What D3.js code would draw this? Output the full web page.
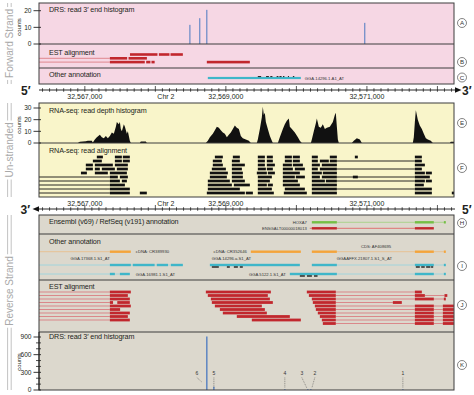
<!DOCTYPE html>
<html>
<head>
<meta charset="utf-8">
<script src="https://cdn.jsdelivr.net/npm/d3@7"></script>
<style>
body { margin: 0; background: #fff; }
svg text { font-family: "Liberation Sans", Arial, sans-serif; }
</style>
</head>
<body>
<div id="chart"></div>
<script>
// genome window, positions are bp offsets from chromStart
var chromStart = 32566000;
var viewRange = [350, 6235];

// forward strand DRS 3' end histogram [pos, count]
var fwdDrs = [[2490, 11.5], [2630, 15.5], [2730, 20.5], [4970, 12.7]];

// forward strand ESTs, blocks per row
var fwdEstRows = [
  [[1640, 2030], [2050, 2200], [2215, 2390]],
  [[1355, 1600], [1620, 1880]],
  [[1355, 1850], [1870, 1930], [1945, 1990], [2730, 3340]]
];
var fwdEstLines = [[1, 350, 1355], [2, 350, 1355]];

// forward strand probe
var fwdProbe = [[2744, 4063]];
var fwdProbeMarks = [[3453, 3500], [3570, 3610], [3630, 3660], [3720, 3745], [3760, 3790], [3810, 3830], [3880, 3895], [3950, 3970]];

// RNA-seq read depth [pos, count]
var depth = [
  [900, 0], [930, 1], [1014, 1.5], [1043, 2], [1099, 2], [1113, 0.5], [1142, 3], [1170, 5], [1213, 7], [1241, 5],
  [1269, 4], [1298, 6], [1326, 4], [1355, 6], [1383, 9], [1411, 8], [1440, 14], [1454, 18], [1482, 16], [1497, 18],
  [1510, 12], [1525, 10], [1553, 16], [1568, 14], [1596, 8], [1610, 10], [1624, 6], [1638, 2], [1652, 0],
  [1780, 0], [1794, 1.3], [1865, 1.3], [1879, 0],
  [2716, 0], [2744, 2], [2773, 5], [2815, 8], [2844, 11], [2872, 14], [2900, 13], [2928, 11], [2957, 9], [2985, 8],
  [3014, 5], [3042, 7], [3070, 9], [3099, 12], [3127, 15], [3155, 13], [3184, 12], [3212, 6], [3240, 4], [3283, 3],
  [3326, 2], [3354, 0],
  [3439, 0], [3453, 3], [3482, 12], [3510, 22], [3524, 31], [3538, 24], [3552, 26], [3567, 18], [3595, 12], [3624, 6],
  [3652, 2], [3666, 0],
  [3737, 0], [3765, 5], [3808, 12], [3836, 16], [3864, 19], [3893, 21], [3907, 14], [3936, 12], [3978, 9], [4021, 5],
  [4049, 2], [4077, 0],
  [4205, 0], [4219, 3], [4247, 10], [4276, 17], [4290, 21], [4318, 14], [4346, 13], [4375, 16], [4404, 12], [4432, 13],
  [4474, 14], [4517, 18], [4545, 24], [4559, 26], [4574, 14], [4588, 3], [4602, 0],
  [4786, 0], [4814, 2], [4857, 4], [4900, 3], [4928, 0],
  [5651, 0], [5665, 5], [5680, 18], [5694, 28], [5722, 20], [5750, 15], [5779, 12], [5807, 8], [5836, 4], [5864, 3],
  [5906, 2], [5935, 0],
  [6176, 0], [6190, 1], [6235, 1]
];

// RNA-seq read alignment, blocks per row
var seqRows = [
  [[1170, 1256], [1426, 1525], [1539, 1638], [2844, 2957], [3099, 3198], [3453, 3553], [3581, 3666], [3836, 3936], [3950, 4049], [4219, 4304], [4474, 4574], [4829, 4871], [5680, 5779]],
  [[1114, 1241], [1426, 1525], [1539, 1638], [2815, 2943], [3085, 3198], [3453, 3553], [3581, 3666], [3836, 3936], [3950, 4049], [4219, 4304], [4333, 4460], [4474, 4574], [5680, 5779]],
  [[1014, 1114], [1142, 1397], [1426, 1610], [2815, 2957], [3085, 3269], [3453, 3553], [3581, 3695], [3808, 3936], [3950, 4092], [4219, 4333], [4361, 4574], [5680, 5822]],
  [[1014, 1114], [1142, 1213], [1241, 1426], [1454, 1610], [2801, 3000], [3085, 3227], [3453, 3567], [3581, 3666], [3808, 3950], [3978, 4120], [4219, 4304], [4333, 4574], [5680, 5779]],
  [[945, 1029], [1142, 1326], [1355, 1596], [2773, 3028], [3085, 3241], [3439, 3581], [3595, 3695], [3808, 4049], [4219, 4361], [4375, 4574], [5680, 5822], [5836, 5921]],
  [[1355, 1468], [1497, 1610], [2773, 3014], [3085, 3241], [3453, 3652], [3808, 3978], [3992, 4120], [4219, 4333], [4361, 4574], [4801, 4871], [5680, 5892]],
  [[1355, 1497], [1525, 1596], [2744, 3056], [3085, 3269], [3453, 3624], [3808, 4021], [4219, 4404], [4418, 4574], [5680, 5822], [5836, 5921]],
  [[1355, 1568], [2744, 3085], [3113, 3340], [3453, 3581], [3595, 3666], [3808, 4049], [4219, 4574], [5680, 5807]],
  [[1355, 1638], [2744, 3198], [3453, 3652], [3836, 4120], [4219, 4574], [5680, 5921]],
  [[1355, 1638], [1780, 1879], [2730, 3269], [3283, 3383], [3453, 3680], [3822, 4148], [4219, 4574], [5680, 5921], [6204, 6235]]
];
var seqJunctions = [
  [5, 350, 1355], [6, 350, 1355], [7, 350, 1355], [8, 350, 1355], [9, 350, 1355],
  [1, 4574, 5680], [3, 4574, 5680], [5, 4574, 5680], [6, 4574, 5680], [8, 4574, 5680]
];

// Ensembl / RefSeq models
var hoxa7 = [[4219, 4574], [5680, 5949], [6091, 6119]];
var ensgalt = [[4219, 4574], [5680, 5949]];

// other annotation on the reverse strand: [name, row, exons, leading line]
var revAnnot = [
  ["cDNA: CR389930", 0, [[1355, 1652]], true],
  ["cDNA: CR352646", 0, [[3354, 4063]], false],
  ["CDS: AF408695", 0, [[4219, 4574], [5680, 5949], [6091, 6119]], false],
  ["GGA.17368.1.S1_AT", 1, [[1355, 1652], [1680, 1990], [2020, 2180], [2220, 2390]], true],
  ["GGA.14296.a.S1_AT", 1, [[2773, 4049]], false],
  ["GGAAFFX.21807.1.S1_S_AT", 1, [[4219, 4574], [5680, 5949], [6091, 6119]], false],
  ["GGA.16981.1.S1_AT", 2, [[1355, 1426], [1497, 1638]], true],
  ["GGA.5122.1.S1_AT", 2, [[3907, 4574], [5680, 5949], [6091, 6119]], false]
];
var revAnnotMarks = [
  [1, 2801, 2900], [1, 3014, 3056], [1, 3113, 3170], [1, 3198, 3240],
  [1, 5694, 5750], [1, 5770, 5820], [1, 5840, 5900], [1, 5910, 5940],
  [2, 4049, 4120], [2, 4150, 4220], [2, 4250, 4300]
];

// reverse strand ESTs, blocks per row
var revEstRows = [
  [[1355, 1652], [2716, 3638], [4148, 4559], [5680, 5779]],
  [[1355, 1610], [2744, 3595], [4177, 4559], [5680, 5822], [6100, 6140]],
  [[1355, 1638], [2787, 3624], [4219, 4559], [5680, 5949], [6091, 6119]],
  [[1355, 1400], [1460, 1638], [2801, 3666], [4233, 4559], [5368, 5495]],
  [[1355, 1652], [2844, 3510], [4262, 4559], [5680, 5949], [6077, 6233]],
  [[1355, 1500], [2915, 3553], [4276, 4559], [5680, 5949], [6077, 6233]],
  [[1355, 1638], [2957, 3581], [4304, 4559], [5680, 5949], [6077, 6233]],
  [[1355, 1610], [3155, 3907], [4333, 4559], [5680, 5949], [6077, 6233]],
  [[1355, 1638], [3368, 4063], [4361, 4559], [5680, 5949], [6077, 6233]],
  [[4375, 4559], [5680, 5949], [6077, 6233]]
];
var revEstLines = [
  [0, 350, 1355], [1, 350, 1355], [2, 350, 1355], [3, 350, 1355], [4, 350, 1355],
  [5, 350, 1355], [6, 350, 1355], [7, 350, 1355], [8, 350, 1355],
  [0, 4559, 5680], [1, 4559, 5680], [2, 4559, 5680], [3, 4559, 5368], [4, 4559, 5680],
  [5, 4559, 5680], [6, 4559, 5680], [7, 4559, 5680], [8, 4559, 5680], [9, 4559, 5680],
  [1, 5822, 6100], [2, 5949, 6091], [4, 5949, 6077], [5, 5949, 6077], [6, 5949, 6077],
  [7, 5949, 6077], [8, 5949, 6077], [9, 5949, 6077]
];

// reverse strand DRS 3' end histogram [pos, count, peak label]
var revDrs = [[2730, 910, "6"], [2830, 55, "5"], [3836, 12, "4"], [4162, 12, "3"], [4205, 12, "2"], [5510, 12, "1"]];

var svg = d3.select("#chart")
  .append("svg")
    .attr("width", 474)
    .attr("height", 395);

var x = d3.scaleLinear().domain(viewRange).range([39, 454]);

var red = "#c1272d", cyan = "#3fb6c9", orange = "#f4a43a", green = "#74bf45", blue = "#4a78c0";

// section boxes
var boxes = [
  {top: 3, bottom: 84, fill: "#f6d7e4", dividers: [44, 68], name: "Forward Strand", mid: 43.5},
  {top: 103, bottom: 197, fill: "#f9f5ca", dividers: [143], name: "Un-stranded", mid: 150},
  {top: 215, bottom: 390, fill: "#dcd8cd", dividers: [234, 280, 332], name: "Reverse Strand", mid: 291}
];

boxes.forEach(function(b) {
  svg.append("rect")
    .attr("x", 39).attr("y", b.top)
    .attr("width", 415).attr("height", b.bottom - b.top)
    .attr("fill", b.fill);
});

// small helpers for blocks and thin lines
function drawBlocks(data, yOf, h, color) {
  svg.append("g").selectAll("rect")
    .data(data)
    .enter()
    .append("rect")
    .attr("x", function(d) { return x(d[1]); })
    .attr("y", function(d) { return yOf(d[0]) - h / 2; })
    .attr("width", function(d) { return Math.max(0.8, x(d[2]) - x(d[1])); })
    .attr("height", h)
    .attr("fill", color);
}
function drawLines(data, yOf, color, w) {
  svg.append("g").selectAll("line")
    .data(data)
    .enter()
    .append("line")
    .attr("x1", function(d) { return x(d[1]); })
    .attr("x2", function(d) { return x(d[2]); })
    .attr("y1", function(d) { return yOf(d[0]); })
    .attr("y2", function(d) { return yOf(d[0]); })
    .attr("stroke", color)
    .attr("stroke-width", w);
}
function flatRows(rows) {
  var out = [];
  rows.forEach(function(r, i) { r.forEach(function(b) { out.push([i, b[0], b[1]]); }); });
  return out;
}
function gaps(exons) {
  var out = [];
  for (var i = 1; i < exons.length; i++) out.push([exons[i - 1][1], exons[i][0]]);
  return out;
}
function panelTitle(t, y) {
  svg.append("text").attr("x", 49).attr("y", y).text(t)
    .attr("font-size", "7.2px").attr("letter-spacing", "-0.12px").attr("fill", "#231f20");
}

// ---- forward strand ----
var yFwd = d3.scaleLinear().domain([0, 20]).range([44, 10.7]);
svg.append("g").selectAll("line")
  .data(fwdDrs)
  .enter()
  .append("line")
  .attr("x1", function(d) { return x(d[0]); })
  .attr("x2", function(d) { return x(d[0]); })
  .attr("y1", yFwd(0))
  .attr("y2", function(d) { return yFwd(d[1]); })
  .attr("stroke", blue)
  .attr("stroke-width", 1);

var fwdEstY = function(r) { return 54.5 + r * 3.8; };
drawLines(fwdEstLines, fwdEstY, "#d9737a", 0.8);
drawBlocks(flatRows(fwdEstRows), fwdEstY, 2.6, red);

drawBlocks(fwdProbe.map(function(d) { return [0, d[0], d[1]]; }), function() { return 78; }, 2.2, cyan);
drawBlocks(fwdProbeMarks.map(function(d) { return [0, d[0], d[1]]; }), function() { return 76.6; }, 0.9, "#111");
svg.append("text").attr("x", x(4063) + 4).attr("y", 79.5).text("GGA.14296.1.A1_AT")
  .attr("font-size", "4.2px").attr("fill", "#333");

panelTitle("DRS: read 3\u2032 end histogram", 12);
panelTitle("EST alignment", 54.5);
panelTitle("Other annotation", 77);

// ---- un-stranded ----
var yDepth = d3.scaleLinear().domain([0, 30]).range([143, 108]);
svg.append("path")
  .datum(depth)
  .attr("d", d3.area()
    .x(function(d) { return x(d[0]); })
    .y0(yDepth(0))
    .y1(function(d) { return yDepth(d[1]); }))
  .attr("fill", "#111");

var seqY = function(r) { return 157 + r * 4; };
drawLines(seqJunctions, seqY, "#111", 0.9);
drawBlocks(flatRows(seqRows), seqY, 2.7, "#111");

panelTitle("RNA-seq: read depth histogram", 113);
panelTitle("RNA-seq: read alignment", 152.5);

// ---- reverse strand ----
// Ensembl / RefSeq
drawLines(gaps(hoxa7).map(function(d) { return [0, d[0], d[1]]; }), function() { return 222.3; }, "#9fcf7c", 0.8);
drawBlocks(hoxa7.map(function(d) { return [0, d[0], d[1]]; }), function() { return 222.3; }, 2.4, green);
drawLines([[0, 4190, 4219]].concat(gaps(ensgalt).map(function(d) { return [0, d[0], d[1]]; })), function() { return 228.3; }, "#e0575c", 0.8);
drawBlocks(ensgalt.map(function(d) { return [0, d[0], d[1]]; }), function() { return 228.3; }, 2.4, red);
svg.append("text").attr("x", x(4219) - 5).attr("y", 224).attr("text-anchor", "end")
  .text("HOXA7").attr("font-size", "4.2px").attr("fill", "#333");
svg.append("text").attr("x", x(4219) - 5).attr("y", 230).attr("text-anchor", "end")
  .text("ENSGALT00000018013").attr("font-size", "4.2px").attr("fill", "#333");

// other annotation
var annotRowY = [251.7, 265, 274];
var annotColor = [orange, cyan, cyan];
var annotLine = ["#e9bd85", "#93d4df", "#93d4df"];
// label placement: [anchor, x position (bp), dy, dx]
var annotLabel = {
  "cDNA: CR389930": ["start", 1652, 1.5, 5],
  "cDNA: CR352646": ["end", 3354, 1.5, -4],
  "CDS: AF408695": ["middle", 5130, -4.2, 0],
  "GGA.17368.1.S1_AT": ["middle", 1075, -5, 0],
  "GGA.14296.a.S1_AT": ["start", 2800, -4.6, 0],
  "GGAAFFX.21807.1.S1_S_AT": ["start", 4574, -4.6, 0],
  "GGA.16981.1.S1_AT": ["start", 1652, 1.5, 5],
  "GGA.5122.1.S1_AT": ["end", 3907, 1.5, -4]
};
revAnnot.forEach(function(a) {
  var yy = function() { return annotRowY[a[1]]; };
  var lns = gaps(a[2]);
  if (a[3]) lns.unshift([350, a[2][0][0]]);
  drawLines(lns.map(function(d) { return [0, d[0], d[1]]; }), yy, annotLine[a[1]], 0.8);
  drawBlocks(a[2].map(function(d) { return [0, d[0], d[1]]; }), yy, 2.4, annotColor[a[1]]);
  var p = annotLabel[a[0]];
  svg.append("text")
    .attr("x", x(p[1]) + p[3])
    .attr("y", annotRowY[a[1]] + p[2])
    .attr("text-anchor", p[0])
    .text(a[0])
    .attr("font-size", "4.2px")
    .attr("fill", "#333");
});
drawBlocks(revAnnotMarks, function(r) { return annotRowY[r] + 2; }, 1.3, "#111");

// EST alignment
var revEstY = function(r) { return 292 + r * 3.5; };
drawLines(revEstLines, revEstY, "#d9666d", 0.7);
drawBlocks(flatRows(revEstRows), revEstY, 2.8, red);

// DRS reverse
var yRev = d3.scaleLinear().domain([0, 900]).range([390, 337]);
svg.append("g").selectAll("line")
  .data(revDrs)
  .enter()
  .append("line")
  .attr("x1", function(d) { return x(d[0]); })
  .attr("x2", function(d) { return x(d[0]); })
  .attr("y1", yRev(0))
  .attr("y2", function(d) { return yRev(d[1]); })
  .attr("stroke", blue)
  .attr("stroke-width", 1.3);

// peak numbers with pointer lines: label dx, end dx, end y
var peakLayout = {"6": [-10, -5, 382], "5": [0, 0, 388], "4": [0, 0, 388], "3": [-6, -1, 388], "2": [4, 1, 388], "1": [0, 0, 388]};
revDrs.forEach(function(d) {
  var l = peakLayout[d[2]], px = x(d[0]);
  svg.append("text").attr("x", px + l[0]).attr("y", 375).attr("text-anchor", "middle")
    .text(d[2]).attr("font-size", "5px").attr("fill", "#333");
  svg.append("line")
    .attr("x1", px + l[0]).attr("y1", 377.5)
    .attr("x2", px + l[1]).attr("y2", l[2])
    .attr("stroke", "#444").attr("stroke-width", 0.5).attr("stroke-dasharray", "1,0.8");
});

panelTitle("Ensembl (v69) / RefSeq (v191) annotation", 224);
panelTitle("Other annotation", 244);
panelTitle("EST alignment", 289);
panelTitle("DRS: read 3\u2032 end histogram", 339);

// ---- borders ----
boxes.forEach(function(b) {
  svg.append("rect")
    .attr("x", 39).attr("y", b.top)
    .attr("width", 415).attr("height", b.bottom - b.top)
    .attr("fill", "none").attr("stroke", "#3d3d3d").attr("stroke-width", 1);
  b.dividers.forEach(function(yy) {
    svg.append("line").attr("x1", 39).attr("x2", 454).attr("y1", yy).attr("y2", yy)
      .attr("stroke", "#3d3d3d").attr("stroke-width", 1);
  });
});

// ---- y axes ----
function yTicks(scale, major, minor) {
  minor.forEach(function(v) {
    svg.append("line").attr("x1", 36).attr("x2", 41).attr("y1", scale(v)).attr("y2", scale(v))
      .attr("stroke", "#222").attr("stroke-width", 0.8);
  });
  major.forEach(function(v) {
    svg.append("line").attr("x1", 33.5).attr("x2", 41).attr("y1", scale(v)).attr("y2", scale(v))
      .attr("stroke", "#222").attr("stroke-width", 0.9);
    svg.append("text").attr("x", 31.5).attr("y", scale(v) + 2.4).attr("text-anchor", "end")
      .text(v).attr("font-size", "6.6px").attr("fill", "#231f20");
  });
}
yTicks(yFwd, [0, 10, 20], []);
yTicks(yDepth, [0, 10, 20, 30], []);
yTicks(yRev, [0, 300, 600, 900], [100, 200, 400, 500, 700, 800]);
svg.append("line").attr("x1", 39).attr("x2", 39).attr("y1", 332).attr("y2", 390).attr("stroke", "#222");

[[27, "counts"], [125, "counts"], [362, "counts"]].forEach(function(c) {
  svg.append("text")
    .attr("transform", "translate(21," + c[0] + ") rotate(-90)")
    .attr("text-anchor", "middle")
    .text(c[1]).attr("font-size", "6px").attr("fill", "#231f20");
});

// ---- genome rulers ----
function ruler(yy, above) {
  var g = svg.append("g");
  g.append("line").attr("x1", 39).attr("x2", 455).attr("y1", yy).attr("y2", yy)
    .attr("stroke", "#111").attr("stroke-width", 0.9);
  d3.range(400, 6201, 100).forEach(function(t) {
    var big = t % 1000 === 0;
    g.append("line").attr("x1", x(t)).attr("x2", x(t))
      .attr("y1", yy - (big ? 4 : 1.8)).attr("y2", yy + 1.8)
      .attr("stroke", "#111").attr("stroke-width", 0.7);
  });
  [1000, 3000, 5000].forEach(function(t) {
    g.append("text").attr("x", x(t)).attr("y", above ? yy - 3 : yy + 9)
      .attr("text-anchor", "middle")
      .text(d3.format(",")(chromStart + t))
      .attr("font-size", "7px").attr("fill", "#231f20");
  });
  g.append("text").attr("x", x(2000) + 2).attr("y", above ? yy - 3 : yy + 9)
    .text("Chr 2").attr("font-size", "7px").attr("fill", "#231f20");
}
ruler(90, false);
ruler(209, true);

svg.append("path").attr("d", "M455,87.3L461.5,90L455,92.7Z").attr("fill", "#111");
svg.append("path").attr("d", "M39,206.3L32.5,209L39,211.7Z").attr("fill", "#111");
svg.append("line").attr("x1", 36).attr("x2", 39).attr("y1", 209).attr("y2", 209).attr("stroke", "#111");

[[21, 94.5, "5\u2032"], [462, 94.5, "3\u2032"], [20.5, 213.5, "3\u2032"], [462, 213.5, "5\u2032"]].forEach(function(p) {
  svg.append("text").attr("x", p[0]).attr("y", p[1]).text(p[2])
    .attr("font-size", "12px").attr("font-weight", "bold").attr("fill", "#231f20");
});

// ---- side labels ----
boxes.forEach(function(b) {
  var cy = b.mid;
  var t = svg.append("text")
    .attr("transform", "translate(9.5," + cy + ") rotate(-90)")
    .attr("text-anchor", "middle")
    .attr("dy", "0.35em")
    .text(b.name)
    .attr("font-size", "10px")
    .attr("fill", "#a9a9a9");
  var half = t.node().getComputedTextLength() / 2 + 2;
  [7.6, 11.2].forEach(function(lx) {
    svg.append("line").attr("x1", lx).attr("x2", lx).attr("y1", b.top).attr("y2", cy - half)
      .attr("stroke", "#b3b3b3").attr("stroke-width", 0.8);
    svg.append("line").attr("x1", lx).attr("x2", lx).attr("y1", cy + half).attr("y2", b.bottom)
      .attr("stroke", "#b3b3b3").attr("stroke-width", 0.8);
  });
});

// ---- circled panel letters ----
var letters = [["A", 23], ["B", 62], ["C", 77.5], ["E", 123], ["F", 168], ["H", 223], ["I", 266], ["J", 305], ["K", 365]];
letters.forEach(function(l) {
  svg.append("circle").attr("cx", 462).attr("cy", l[1]).attr("r", 4.5)
    .attr("fill", "none").attr("stroke", "#333").attr("stroke-width", 0.6);
  svg.append("text").attr("x", 462).attr("y", l[1] + 2.2).attr("text-anchor", "middle")
    .text(l[0]).attr("font-size", "6.2px").attr("fill", "#333");
});
</script>
</body>
</html>
